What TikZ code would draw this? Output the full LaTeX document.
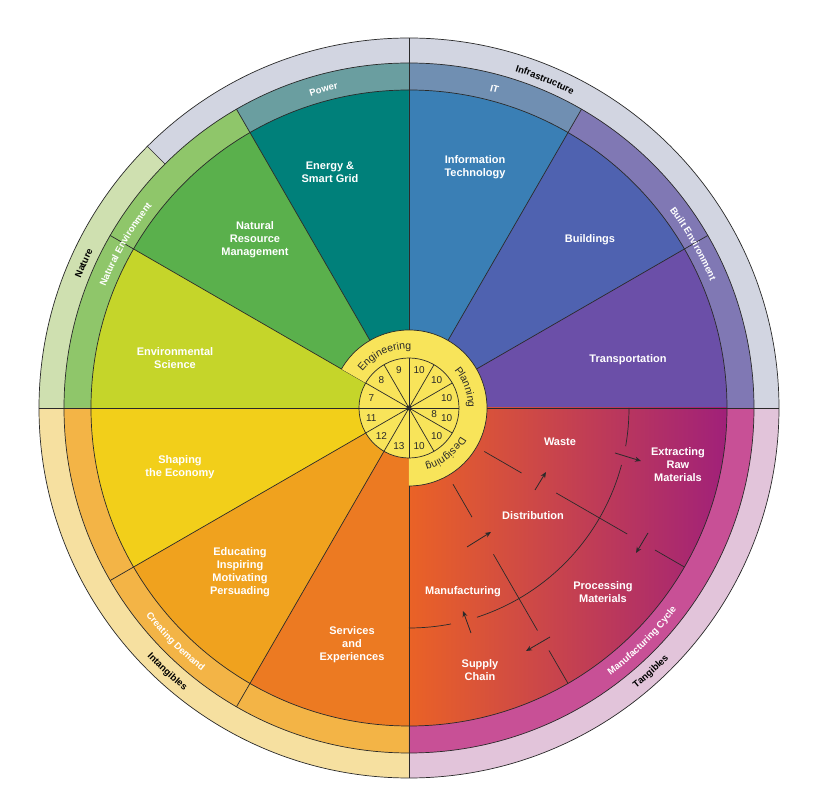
\documentclass[tikz,border=0pt]{standalone}
\usepackage{fontspec}
\setmainfont{Liberation Sans}
\usetikzlibrary{decorations.text,arrows.meta}

\definecolor{cEnergy}{HTML}{00807A}
\definecolor{cIT}{HTML}{3A7FB5}
\definecolor{cBuild}{HTML}{4F62B0}
\definecolor{cTrans}{HTML}{6B4FA8}
\definecolor{cNRM}{HTML}{5AB04C}
\definecolor{cEnv}{HTML}{C5D52A}
\definecolor{cShape}{HTML}{F2CF1A}
\definecolor{cEdu}{HTML}{F0A21E}
\definecolor{cServ}{HTML}{EC7A22}
\definecolor{cHub}{HTML}{F8E45A}
\definecolor{cLine}{HTML}{2A2A2A}
\definecolor{oNature}{HTML}{CFE0B0}
\definecolor{oInfra}{HTML}{D2D5E1}
\definecolor{oIntang}{HTML}{F6E0A0}
\definecolor{oTang}{HTML}{E2C4DA}
\definecolor{mNat}{HTML}{8FC66A}
\definecolor{mPower}{HTML}{6A9EA0}
\definecolor{mIT}{HTML}{708FB2}
\definecolor{mBuilt}{HTML}{8078B4}
\definecolor{mDemand}{HTML}{F3B446}
\definecolor{mCycle}{HTML}{C85096}

\tikzset{
  sectorlabel/.style={text=white,font=\bfseries\fontsize{11}{13}\selectfont,align=center},
  ringline/.style={draw=cLine,line width=0.7pt},
  cyclearrow/.style={-{Stealth[length=6pt,width=5pt]},line width=0.8pt,draw=cLine},
}
% wedge: start angle, end angle, far radius (clipped by a circle)
\newcommand{\wedgepath}[3]{(0,0) -- (#1:#3) -- ({(#1+#2)/2}:#3) -- (#2:#3) -- cycle}
% text along an arc: start, end, radius, text, format
\newcommand{\arctext}[5]{\path[decorate,decoration={text along path,text align=center,text={|#5|#4}}] (#1:#3) arc[start angle=#1,end angle=#2,radius=#3];}

\begin{document}
\begin{tikzpicture}[x=1pt,y=1pt]
  \fill[white] (-409,-386) rectangle (411,408);
  \useasboundingbox (-409,-386) rectangle (411,408);
  % outer ring
  \begin{scope}
    \clip (0,0) circle (370);
    \foreach \a/\b/\c in {135/180/oNature,0/135/oInfra,180/270/oIntang,270/360/oTang}
      \fill[\c] \wedgepath{\a}{\b}{600};
  \end{scope}
  % middle ring
  \begin{scope}
    \clip (0,0) circle (345);
    \foreach \a/\b/\c in {120/180/mNat,90/120/mPower,60/90/mIT,0/60/mBuilt,180/270/mDemand,270/360/mCycle}
      \fill[\c] \wedgepath{\a}{\b}{600};
  \end{scope}
  % main sectors
  \begin{scope}
    \clip (0,0) circle (318);
    \foreach \a/\b/\c in {90/120/cEnergy,60/90/cIT,30/60/cBuild,0/30/cTrans,
                          120/150/cNRM,150/180/cEnv,180/210/cShape,210/240/cEdu,240/270/cServ}
      \fill[\c] \wedgepath{\a}{\b}{600};
    \shade[left color={rgb,255:red,234;green,98;blue,38},right color={rgb,255:red,160;green,32;blue,122}] (0,-320) rectangle (320,0);
  \end{scope}
  % boundaries
  \foreach \a in {0,30,60,90,120,150,180,210,240,270}
    \draw[ringline] (0,0) -- (\a:345);
  \foreach \a in {0,90,180,270,135}
    \draw[ringline] (\a:345) -- (\a:370);
  \foreach \r in {318,345,370}
    \draw[ringline] (0,0) circle (\r);
  % manufacturing cycle lines
  \draw[ringline] (-30:87) -- (-30:130);  \draw[ringline] (-30:170) -- (-30:252);  \draw[ringline] (-30:284) -- (-30:318);
  \draw[ringline] (-60:88) -- (-60:126);  \draw[ringline] (-60:169) -- (-60:257);  \draw[ringline] (-60:280) -- (-60:318);
  \draw[ringline] (0:220) arc[start angle=0,end angle=-10,radius=220];
  \draw[ringline] (-15:220) arc[start angle=-15,end angle=-72,radius=220];
  \draw[ringline] (-79:220) arc[start angle=-79,end angle=-90,radius=220];
  % hub
  \fill[cHub] (150:78) arc[start angle=150,end angle=-90,radius=78] -- (0,0) -- cycle;
  \draw[ringline] (150:78) arc[start angle=150,end angle=-90,radius=78];
  \fill[cHub] (0,0) circle (50);
  \draw[ringline] (0,0) circle (50);
  \foreach \a in {0,30,...,330}
    \draw[ringline] (0,0) -- (\a:50);
  \fill[cLine] (0,0) circle (2.5);
  \foreach \a/\n in {105/9,135/8,165/7,195/11,225/12,255/13,285/10,315/10,345/10,15/10,45/10,75/10}
    \node[font=\fontsize{10}{11}\selectfont,text=cLine] (h\a) at (\a:39) {\n};
  \node[font=\fontsize{10}{11}\selectfont,text=cLine] (h8b) at (-14:26) {8};
  \arctext{152}{78}{59}{Engineering}{\fontsize{10.5}{11}\selectfont\color{cLine}}
  \arctext{55}{-15}{59}{Planning}{\fontsize{10.5}{11}\selectfont\color{cLine}}
  \arctext{-15}{-88}{59}{Designing}{\fontsize{10.5}{11}\selectfont\color{cLine}}
  % ring labels
  \arctext{118}{92}{327}{Power}{\bfseries\fontsize{9.5}{10}\selectfont\color{white}}
  \arctext{85}{65}{327}{IT}{\bfseries\fontsize{9.5}{10}\selectfont\color{white}}
  \arctext{58}{2}{327}{Built Environment}{\bfseries\fontsize{9.5}{10}\selectfont\color{white}}
  \arctext{178}{122}{327}{Natural Environment}{\bfseries\fontsize{9.5}{10}\selectfont\color{white}}
  \arctext{178}{134}{353}{Nature}{\bfseries\fontsize{9.5}{10}\selectfont\color{black}}
  \arctext{110}{25}{353}{Infrastructure}{\bfseries\fontsize{9.5}{10}\selectfont\color{black}}
  \arctext{182}{268}{335}{Creating Demand}{\bfseries\fontsize{9.5}{10}\selectfont\color{white}}
  \arctext{272}{358}{335}{Manufacturing Cycle}{\bfseries\fontsize{9.5}{10}\selectfont\color{white}}
  \arctext{190}{265}{361}{Intangibles}{\bfseries\fontsize{9.5}{10}\selectfont\color{black}}
  \arctext{275}{350}{361}{Tangibles}{\bfseries\fontsize{9.5}{10}\selectfont\color{black}}
  % sector labels
  \node[sectorlabel] (energy) at (-79,236) {Energy \&\\Smart Grid};
  \node[sectorlabel] (infotech) at (66,241) {Information\\Technology};
  \node[sectorlabel] (buildings) at (181,168) {Buildings};
  \node[sectorlabel] (transport) at (219,48) {Transportation};
  \node[sectorlabel] (natres) at (-154,168) {Natural\\Resource\\Management};
  \node[sectorlabel] (envsci) at (-234,50) {Environmental\\Science};
  \node[sectorlabel] (economy) at (-229,-59) {Shaping\\the Economy};
  \node[sectorlabel] (educating) at (-169,-164) {Educating\\Inspiring\\Motivating\\Persuading};
  \node[sectorlabel] (services) at (-57,-237) {Services\\and\\Experiences};
  \node[sectorlabel] (waste) at (151,-34) {Waste};
  \node[sectorlabel] (extract) at (269,-57) {Extracting\\Raw\\Materials};
  \node[sectorlabel] (distrib) at (124,-108) {Distribution};
  \node[sectorlabel] (process) at (194,-184) {Processing\\Materials};
  \node[sectorlabel] (manuf) at (54,-184) {Manufacturing};
  \node[sectorlabel] (supply) at (71,-262) {Supply\\Chain};
  % cycle arrows
  \coordinate (a1) at (126,-82);  \coordinate (b1) at (137,-64);
  \coordinate (a2) at (206,-45);  \coordinate (b2) at (232,-53);
  \coordinate (a3) at (239,-125); \coordinate (b3) at (227,-145);
  \coordinate (a4) at (141,-229); \coordinate (b4) at (117,-243);
  \coordinate (a5) at (62,-225);  \coordinate (b5) at (54,-203);
  \coordinate (a6) at (58,-139);  \coordinate (b6) at (82,-124);
  \foreach \i in {1,...,6}
    \draw[cyclearrow] (a\i) -- (b\i);
\end{tikzpicture}
\end{document}
